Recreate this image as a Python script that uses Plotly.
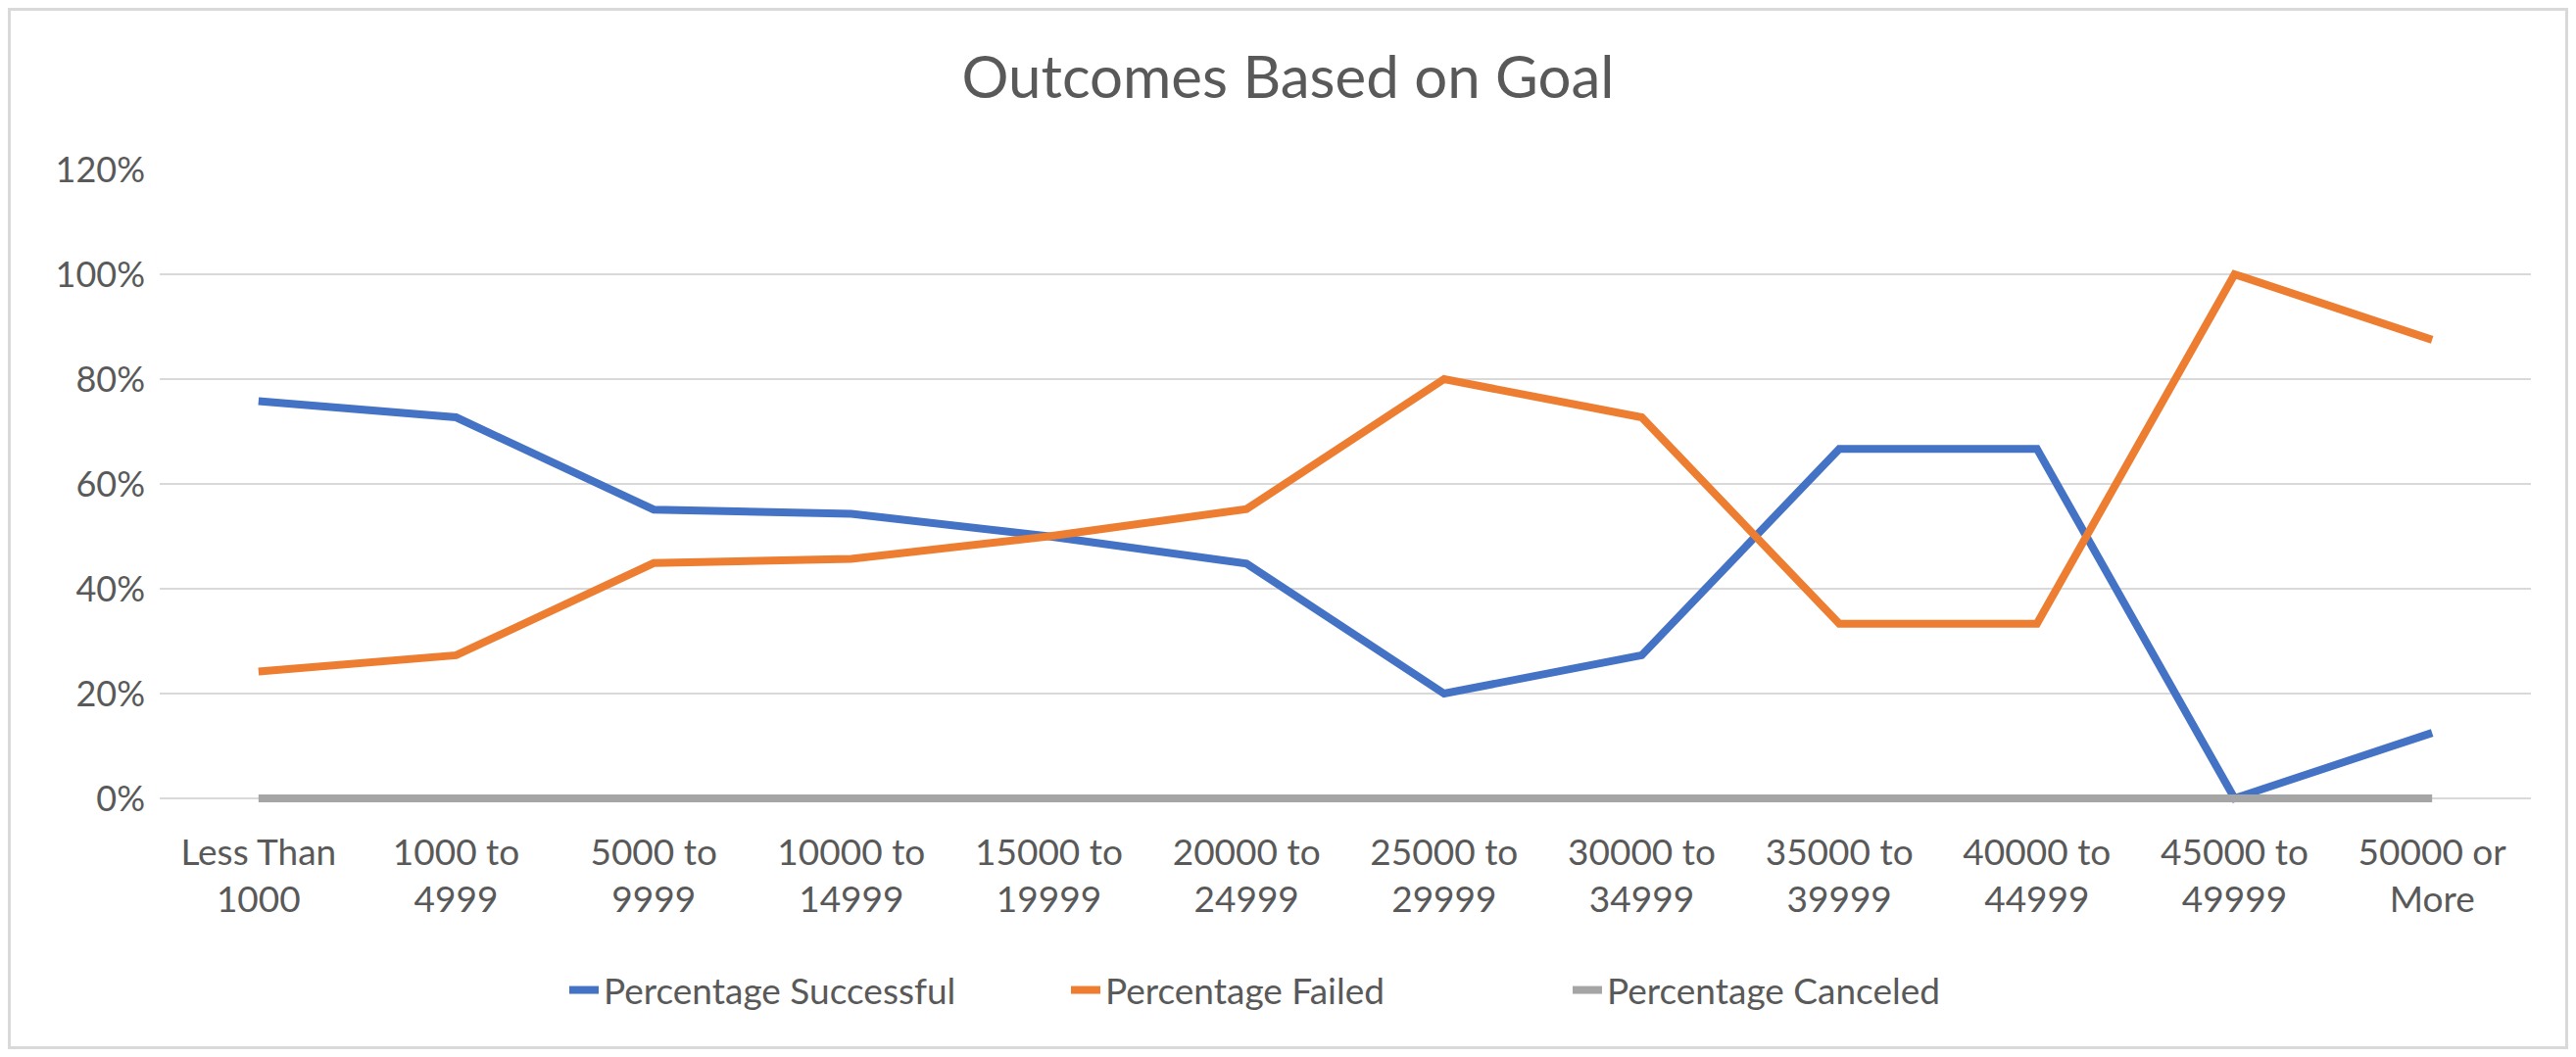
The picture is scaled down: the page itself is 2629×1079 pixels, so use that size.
import plotly.graph_objects as go

# goal ranges (x categories)
goal_ranges = ["Less Than<br>1000", "1000 to<br>4999", "5000 to<br>9999", "10000 to<br>14999",
               "15000 to<br>19999", "20000 to<br>24999", "25000 to<br>29999", "30000 to<br>34999",
               "35000 to<br>39999", "40000 to<br>44999", "45000 to<br>49999", "50000 or<br>More"]

pct_successful = [0.758, 0.727, 0.551, 0.543, 0.50, 0.448, 0.20, 0.273, 0.667, 0.667, 0.0, 0.125]
pct_failed = [0.242, 0.273, 0.449, 0.457, 0.50, 0.552, 0.80, 0.727, 0.333, 0.333, 1.0, 0.875]
pct_canceled = [0, 0, 0, 0, 0, 0, 0, 0, 0, 0, 0, 0]

# page body has an 8px margin, so the figure is a bit smaller than the window
W, H = 2613, 1063
ml, mr, mt, mb = 155, 38, 165, 248
text_col = "#595959"
font = "Lato"

fig = go.Figure()
fig.add_trace(go.Scatter(x=goal_ranges, y=pct_successful, mode="lines", name="Percentage Successful",
                         line=dict(color="#4472C4", width=8)))
fig.add_trace(go.Scatter(x=goal_ranges, y=pct_failed, mode="lines", name="Percentage Failed",
                         line=dict(color="#ED7D31", width=8)))
fig.add_trace(go.Scatter(x=goal_ranges, y=pct_canceled, mode="lines", name="Percentage Canceled",
                         line=dict(color="#A5A5A5", width=8)))

pw = W - ml - mr
ph = H - mt - mb
fig.add_shape(type="rect", xref="paper", yref="paper",
              x0=-(ml - 1.5) / pw, x1=(W - ml - 1.5) / pw,
              y0=-(mb - 1.5) / ph, y1=(H - mb - 1.5) / ph,
              line=dict(color="#D9D9D9", width=3), layer="below")

fig.update_layout(
    width=W, height=H,
    margin=dict(l=ml, r=mr, t=mt, b=mb),
    paper_bgcolor="white", plot_bgcolor="white",
    font=dict(family=font, color=text_col, size=36),
    title=dict(text="Outcomes Based on Goal", x=0.5, xanchor="center", y=1 - 71 / H, yanchor="middle",
               font=dict(size=60, color=text_col, family=font)),
    xaxis=dict(showgrid=False, showline=False, zeroline=False, ticks="",
               tickfont=dict(size=37), range=[-0.5, 11.5], ticklabelstandoff=22),
    yaxis=dict(range=[-0.015, 1.2], tickvals=[0, 0.2, 0.4, 0.6, 0.8, 1.0, 1.2], tickformat=".0%",
               gridcolor="#D9D9D9", gridwidth=2,
               zeroline=False, showline=False, ticks="", tickfont=dict(size=36), ticklabelstandoff=14),
    legend=dict(orientation="h", x=(1336 - ml) / pw, xanchor="center", y=-188 / ph, yanchor="middle",
                font=dict(size=37), entrywidth=467, entrywidthmode="pixels"),
    showlegend=True,
)

fig.write_html("out.html")
